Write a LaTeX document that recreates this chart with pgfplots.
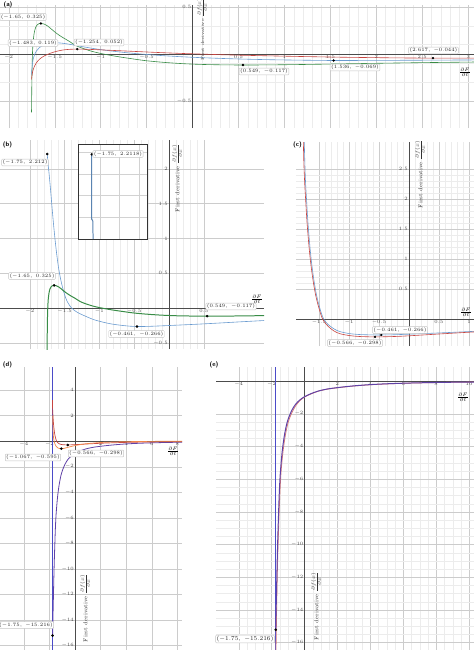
\documentclass[border=0pt]{standalone}
\usepackage{pgfplots}
\usepackage{pgfplotstable}
\pgfplotsset{compat=1.18}

\definecolor{dgreen}{HTML}{388C46}
\definecolor{dblue}{HTML}{6A9BD0}
\definecolor{dred}{HTML}{C74440}
\definecolor{dpurple}{HTML}{6042A6}
\definecolor{dorange}{HTML}{F2874A}
\definecolor{dvline}{HTML}{4B4BC8}

\pgfplotsset{
  desmos/.style={
    scale only axis, anchor=north west,
    axis lines=middle,
    axis line style={-, gray!60!black, line width=0.5pt},
    every inner x axis line/.append style={-},
    every inner y axis line/.append style={-},
    grid=both,
    major grid style={gray!40, line width=0.3pt},
    minor grid style={gray!15, line width=0.2pt},
    major tick length=0pt, minor tick length=0pt,
    tick label style={font=\fontsize{3.5}{4}\selectfont, text=gray!60!black, inner sep=1pt},
  },
}
\tikzset{
  lab/.style={draw=gray!45, fill=white, rounded corners=0.8pt, inner sep=0.9pt, text=black!85},
  pan/.style={font=\sffamily\bfseries\fontsize{6.5}{7}\selectfont},
  ylab/.style={rotate=90, text=black!80},
}

% (a) and (b)
\pgfplotstableread{
x y
-1.752 -0.62
-1.749 -0.35
-1.746 -0.15
-1.742 0.00
-1.735 0.12
-1.725 0.21
-1.71 0.275
-1.69 0.31
-1.67 0.323
-1.65 0.325
-1.62 0.32
-1.58 0.30
-1.53 0.26
-1.48 0.22
-1.42 0.18
-1.35 0.14
-1.27 0.09
-1.18 0.055
-1.09 0.027
-1.00 0.006
-0.90 -0.013
-0.80 -0.03
-0.65 -0.052
-0.50 -0.072
-0.30 -0.09
-0.10 -0.103
0.10 -0.111
0.30 -0.115
0.549 -0.117
0.80 -0.116
1.10 -0.113
1.50 -0.107
2.00 -0.099
2.50 -0.092
3.10 -0.085
}\greentab

\pgfplotstableread{
x y
-1.752 -0.22
-1.745 -0.13
-1.735 -0.06
-1.72 -0.01
-1.70 0.03
-1.67 0.065
-1.63 0.09
-1.58 0.107
-1.53 0.116
-1.483 0.119
-1.43 0.116
-1.36 0.107
-1.28 0.093
-1.18 0.075
-1.05 0.054
-0.90 0.034
-0.70 0.012
-0.50 -0.005
-0.30 -0.019
0.00 -0.035
0.40 -0.050
0.80 -0.060
1.20 -0.066
1.536 -0.069
2.00 -0.068
2.50 -0.066
3.10 -0.063
}\blueatab

\pgfplotstableread{
x y
-1.752 -0.27
-1.745 -0.215
-1.735 -0.17
-1.72 -0.13
-1.70 -0.095
-1.67 -0.06
-1.63 -0.03
-1.58 -0.005
-1.52 0.017
-1.46 0.033
-1.40 0.044
-1.33 0.050
-1.254 0.052
-1.15 0.050
-1.00 0.044
-0.80 0.035
-0.60 0.026
-0.40 0.017
-0.20 0.009
0.00 0.002
0.40 -0.010
0.80 -0.019
1.20 -0.027
1.60 -0.034
2.00 -0.039
2.30 -0.042
2.617 -0.044
3.10 -0.043
}\redatab

\pgfplotstableread{
x y
-1.75 2.212
-1.735 2.05
-1.72 1.90
-1.70 1.68
-1.685 1.50
-1.665 1.27
-1.645 1.06
-1.62 0.83
-1.59 0.60
-1.56 0.43
-1.52 0.26
-1.47 0.11
-1.40 0.0
-1.32 -0.06
-1.24 -0.10
-1.10 -0.16
-1.00 -0.19
-0.85 -0.225
-0.70 -0.247
-0.55 -0.262
-0.461 -0.266
-0.30 -0.264
-0.10 -0.256
0.10 -0.247
0.40 -0.233
0.70 -0.217
1.00 -0.20
1.40 -0.178
}\bluebtab

% (c) and (d)
\pgfplotstableread{
x y
-1.75 3.2
-1.74 2.75
-1.725 2.3
-1.705 1.95
-1.685 1.62
-1.655 1.25
-1.625 0.95
-1.585 0.65
-1.545 0.42
-1.505 0.25
-1.455 0.08
-1.415 -0.01
-1.35 -0.09
-1.25 -0.165
-1.15 -0.21
-1.00 -0.242
-0.85 -0.257
-0.70 -0.263
-0.55 -0.266
-0.461 -0.266
-0.30 -0.264
-0.10 -0.257
0.20 -0.245
0.60 -0.228
1.10 -0.205
}\bluectab

\pgfplotstableread{
x y
-1.765 3.2
-1.755 2.7
-1.74 2.3
-1.72 1.95
-1.70 1.62
-1.67 1.25
-1.64 0.95
-1.60 0.65
-1.56 0.42
-1.52 0.25
-1.47 0.08
-1.43 -0.02
-1.35 -0.12
-1.25 -0.20
-1.15 -0.245
-1.00 -0.275
-0.85 -0.29
-0.70 -0.296
-0.566 -0.298
-0.40 -0.296
-0.20 -0.29
0.00 -0.28
0.50 -0.25
1.10 -0.215
2.00 -0.17
3.00 -0.13
4.00 -0.10
5.00 -0.08
6.00 -0.065
7.00 -0.055
8.50 -0.045
}\redctab

\pgfplotstableread{
x y
-1.745 2.0
-1.735 1.45
-1.72 0.95
-1.70 0.55
-1.67 0.22
-1.63 -0.02
-1.57 -0.22
-1.48 -0.40
-1.36 -0.52
-1.22 -0.58
-1.067 -0.595
-0.90 -0.575
-0.60 -0.50
-0.30 -0.42
0.00 -0.35
0.50 -0.26
1.00 -0.19
2.00 -0.11
3.00 -0.07
4.00 -0.045
5.00 -0.03
6.00 -0.02
8.50 -0.01
}\orangetab

% (d) and (e)
\pgfplotstableread{
x y
-1.75 -15.216
-1.73 -14.2
-1.70 -12.8
-1.66 -11.0
-1.62 -9.45
-1.58 -8.2
-1.54 -7.0
-1.48 -5.77
-1.38 -4.54
-1.30 -3.85
-1.22 -3.31
-1.10 -2.70
-0.98 -2.29
-0.80 -1.85
-0.58 -1.47
-0.30 -1.17
0.00 -0.96
0.40 -0.77
0.85 -0.61
1.50 -0.47
2.47 -0.35
3.20 -0.28
4.00 -0.22
5.00 -0.17
6.00 -0.135
7.00 -0.11
8.00 -0.09
9.00 -0.075
10.5 -0.06
}\purpletab

\pgfplotstableread{
x y
-1.735 -16.6
-1.715 -15.2
-1.69 -13.6
-1.66 -12.0
-1.62 -10.4
-1.58 -9.1
-1.54 -7.9
-1.49 -6.7
-1.43 -5.6
-1.34 -4.6
-1.26 -3.95
-1.17 -3.35
-1.05 -2.75
-0.93 -2.33
-0.75 -1.90
-0.53 -1.50
-0.27 -1.19
0.00 -0.98
0.40 -0.79
0.85 -0.62
1.50 -0.48
2.47 -0.36
3.20 -0.29
4.00 -0.23
5.00 -0.18
6.00 -0.14
7.00 -0.115
8.00 -0.095
9.00 -0.08
10.5 -0.063
}\redetab

\begin{document}
\begin{tikzpicture}
\useasboundingbox (0bp,0bp) rectangle (474bp,-650bp);

% ---------- (a)
\begin{axis}[desmos, at={(0bp,-5bp)}, width=474bp, height=123bp,
  xmin=-2.095, xmax=3.063, ymin=-0.787, ymax=0.521,
  xtick={-2,-1.5,...,3}, ytick={-0.5,0.5}, minor tick num=4,
  tick label style={font=\fontsize{3}{3.5}\selectfont}]
  \addplot[dgreen, line width=0.6pt, smooth] table {\greentab};
  \addplot[dblue, line width=0.6pt, smooth] table {\blueatab};
  \addplot[dred, line width=0.6pt, smooth] table {\redatab};
  \addplot[only marks, mark=*, mark size=1pt, black] coordinates {
    (-1.65,0.325) (-1.483,0.119) (-1.254,0.052) (0.549,-0.117) (1.536,-0.069) (2.617,-0.044)};
\end{axis}

% ---------- (b)
\begin{axis}[desmos, at={(0bp,-140bp)}, width=264bp, height=209bp,
  xmin=-2.428, xmax=1.365, ymin=-0.589, ymax=2.414,
  xtick={-2,-1.5,-1,-0.5,0,0.5}, ytick={-0.5,0.5,1,1.5,2}, minor tick num=4]
  \addplot[dblue, line width=0.6pt, smooth] table {\bluebtab};
  \addplot[dgreen, line width=1pt, smooth] table {\greentab};
  \addplot[only marks, mark=*, mark size=1.1pt, black] coordinates {
    (-1.75,2.212) (-1.65,0.325) (0.549,-0.117) (-0.461,-0.266)};
\end{axis}

% inset of (b)
\begin{axis}[scale only axis, anchor=north west, at={(78bp,-144bp)}, width=69bp, height=95bp,
  xmin=-1.8, xmax=-1.55, ymin=1.9, ymax=2.25,
  axis background/.style={fill=white},
  axis line style={black!80, line width=0.7pt},
  grid=major, major grid style={gray!35, line width=0.3pt},
  xtick={-1.72,-1.65,-1.58}, ytick={1.98,2.06,2.14,2.22},
  xticklabels={}, yticklabels={}, major tick length=0pt]
  \addplot[gray!70, line width=0.4pt] coordinates {(-1.7535,2.2118) (-1.7535,1.97)};
  \addplot[dblue!85!black, line width=1pt] coordinates {(-1.751,2.2118) (-1.7505,1.975) (-1.746,1.965) (-1.7455,1.9)};
  \addplot[only marks, mark=*, mark size=1.1pt, black] coordinates {(-1.75,2.2118)};
\end{axis}

% ---------- (c)
\begin{axis}[desmos, at={(296bp,-142bp)}, width=178bp, height=204bp,
  xmin=-1.883, xmax=1.083, ymin=-0.45, ymax=2.95,
  xtick={-1.5,-1,-0.5,0,0.5,1}, ytick={0.5,1,1.5,2,2.5}, minor tick num=4]
  \addplot[dblue, line width=0.6pt, smooth] table {\bluectab};
  \addplot[dred, line width=0.6pt, smooth] table {\redctab};
  \addplot[only marks, mark=*, mark size=0.9pt, black] coordinates {(-0.461,-0.266) (-0.566,-0.298)};
\end{axis}

% ---------- (d)
\begin{axis}[desmos, at={(0bp,-367bp)}, width=182bp, height=283bp,
  xmin=-5.86, xmax=8.36, ymin=-16.35, ymax=5.8,
  xtick={-4,-2,2,4,6,8}, ytick={-16,-14,...,-2,2,4}, minor tick num=3]
  \addplot[dvline, line width=0.8pt] coordinates {(-1.75,7) (-1.75,-17)};
  \addplot[dpurple, line width=0.8pt, smooth] table {\purpletab};
  \addplot[dred, line width=0.7pt, smooth] table {\redctab};
  \addplot[dorange, line width=0.7pt, smooth] table {\orangetab};
  \addplot[only marks, mark=*, mark size=1.1pt, black] coordinates {
    (-1.067,-0.595) (-0.566,-0.298) (-1.75,-15.216)};
\end{axis}

% ---------- (e)
\begin{axis}[desmos, at={(216bp,-367bp)}, width=258bp, height=283bp,
  xmin=-5.38, xmax=10.30, ymin=-16.45, ymax=0.856,
  xtick={-4,-2,0,2,4,6,8,10}, ytick={-16,-14,...,-2}, minor tick num=3]
  \addplot[dvline, line width=0.9pt] coordinates {(-1.75,2) (-1.75,-17)};
  \addplot[dred!70!white, line width=0.8pt, smooth] table {\redetab};
  \addplot[dpurple, line width=1pt, smooth] table {\purpletab};
  \addplot[only marks, mark=*, mark size=1.1pt, black] coordinates {(-1.75,-15.216)};
\end{axis}

% ---------- panel letters
\node[pan] at (8bp,-4.5bp) {(a)};
\node[pan] at (7.5bp,-144.5bp) {(b)};
\node[pan] at (297.5bp,-144.5bp) {(c)};
\node[pan] at (7.5bp,-365bp) {(d)};
\node[pan] at (214bp,-365bp) {(e)};

% ---------- point labels
\begin{scope}[every node/.append style={lab, font=\fontsize{4}{4.5}\selectfont}]
\node at (23bp,-17bp) {$\left(-1.65,\ 0.325\right)$};
\node at (33bp,-43bp) {$\left(-1.483,\ 0.119\right)$};
\node at (99bp,-42.5bp) {$\left(-1.254,\ 0.052\right)$};
\node at (264bp,-71.5bp) {$\left(0.549,\ -0.117\right)$};
\node at (355bp,-67.5bp) {$\left(1.536,\ -0.069\right)$};
\node at (433.5bp,-50.5bp) {$\left(2.617,\ -0.044\right)$};
\end{scope}
\begin{scope}[every node/.append style={lab, font=\fontsize{5}{5.5}\selectfont}]
\node at (25bp,-162.5bp) {$\left(-1.75,\ 2.212\right)$};
\node at (32bp,-276bp) {$\left(-1.65,\ 0.325\right)$};
\node at (231bp,-306.5bp) {$\left(0.549,\ -0.117\right)$};
\node at (136.5bp,-334bp) {$\left(-0.461,\ -0.266\right)$};
\node at (118bp,-154bp) {$\left(-1.75,\ 2.2118\right)$};
\end{scope}
\begin{scope}[every node/.append style={lab, font=\fontsize{3.6}{4}\selectfont}]
\node at (400bp,-330bp) {$\left(-0.461,\ -0.266\right)$};
\node at (355bp,-343bp) {$\left(-0.566,\ -0.298\right)$};
\end{scope}
\begin{scope}[every node/.append style={lab, font=\fontsize{4.6}{5}\selectfont}]
\node at (33bp,-457.5bp) {$\left(-1.067,\ -0.595\right)$};
\node at (96bp,-453.5bp) {$\left(-0.566,\ -0.298\right)$};
\node at (26bp,-625bp) {$\left(-1.75,\ -15.216\right)$};
\end{scope}
\node[lab, font=\fontsize{5.6}{6}\selectfont] at (245bp,-639bp) {$\left(-1.75,\ -15.216\right)$};

% ---------- axis titles
\node[ylab, font=\fontsize{4.5}{5}\selectfont] at (202bp,-29bp) {First derivative $\frac{\partial f(x)}{\partial x}$};
\node[ylab, font=\fontsize{5.6}{6}\selectfont] at (177bp,-178bp) {First derivative $\frac{\partial f(x)}{\partial x}$};
\node[ylab, font=\fontsize{5.6}{6}\selectfont] at (420bp,-174bp) {First derivative $\frac{\partial f(x)}{\partial x}$};
\node[ylab, font=\fontsize{5.6}{6}\selectfont] at (85bp,-608bp) {First derivative $\frac{\partial f(x)}{\partial x}$};
\node[ylab, font=\fontsize{5.6}{6}\selectfont] at (316bp,-606bp) {First derivative $\frac{\partial f(x)}{\partial x}$};

\node[font=\fontsize{4.5}{5}\selectfont] at (465bp,-72bp) {$\frac{\partial F}{\partial t}$};
\node[font=\fontsize{4.5}{5}\selectfont] at (257bp,-299bp) {$\frac{\partial F}{\partial t}$};
\node[font=\fontsize{4.5}{5}\selectfont] at (466bp,-312bp) {$\frac{\partial F}{\partial t}$};
\node[font=\fontsize{4.5}{5}\selectfont] at (173bp,-451bp) {$\frac{\partial F}{\partial t}$};
\node[font=\fontsize{4.5}{5}\selectfont] at (463bp,-397bp) {$\frac{\partial F}{\partial t}$};
\end{tikzpicture}
\end{document}
